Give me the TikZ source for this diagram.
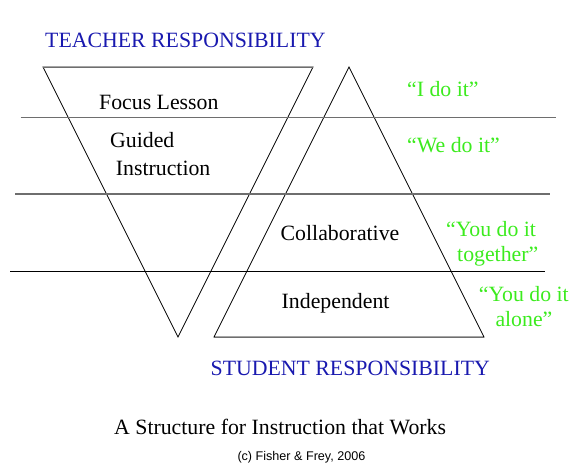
\documentclass[tikz,border=0pt]{standalone}
\usepackage{fontspec}
\setmainfont{Liberation Serif}
\newfontfamily\credfont{Liberation Sans}
\definecolor{headblue}{RGB}{25,25,175}
\definecolor{saygreen}{RGB}{60,235,30}
\definecolor{rulegray}{RGB}{110,110,110}
\begin{document}
\begin{tikzpicture}[x=1pt,y=-1pt,
  txt/.style={anchor=base west,inner sep=0pt,font=\fontsize{21.8}{26}\selectfont},
  head/.style={txt,text=headblue},
  say/.style={txt,text=saygreen},
  tri/.style={draw=black,line width=0.8pt,line join=miter},
  band/.style={draw=rulegray,line width=1.4pt},
  bandb/.style={draw=black,line width=1pt}]
\useasboundingbox (0,0) rectangle (586,468);
% triangles
\coordinate (tl) at (43,67);
\coordinate (tr) at (313,67);
\coordinate (tb) at (178,337);
\coordinate (sa) at (349,67);
\coordinate (sr) at (484,337);
\coordinate (sl) at (214,337);
\draw[tri] (tl) -- (tr) -- (tb) -- cycle;
\draw[tri] (sa) -- (sr) -- (sl) -- cycle;
\draw[draw=rulegray,line width=0.6pt] (tl) -- (tr);
\draw[draw=rulegray,line width=0.6pt] (sl) -- (sr);
% bands
\coordinate (a1) at (20.7,117.3); \coordinate (b1) at (556,117.3);
\coordinate (a2) at (15.3,194);   \coordinate (b2) at (550.3,194);
\coordinate (a3) at (10,271);     \coordinate (b3) at (545,271);
\draw[band] (a1) -- (b1);
\draw[band] (a2) -- (b2);
\draw[bandb] (a3) -- (b3);
% texts
\node[head] (teacher) at (45,48) {TEACHER RESPONSIBILITY};
\node[head] (student) at (210.5,375) {STUDENT RESPONSIBILITY};
\node[txt] (focus) at (99,110) {Focus Lesson};
\node[txt] (guided) at (110,147.3) {Guided};
\node[txt] (instr) at (115.7,175) {Instruction};
\node[txt] (collab) at (280.5,240.7) {Collaborative};
\node[txt] (indep) at (281.5,308) {Independent};
\node[say] (ido) at (407,96.7) {“I do it”};
\node[say] (wedo) at (407,152.7) {“We do it”};
\node[say] (yout1) at (446,236.7) {“You do it};
\node[say] (yout2) at (457,261.7) {together”};
\node[say] (youa1) at (478.7,301) {“You do it};
\node[say] (youa2) at (495.3,326.7) {alone”};
\node[txt] (title) at (114,434) {A Structure for Instruction that Works};
\node[anchor=base west,inner sep=0pt,font=\credfont\fontsize{12.6}{15}\selectfont] (credit) at (237.3,460) {(c) Fisher \& Frey, 2006};
\end{tikzpicture}
\end{document}
